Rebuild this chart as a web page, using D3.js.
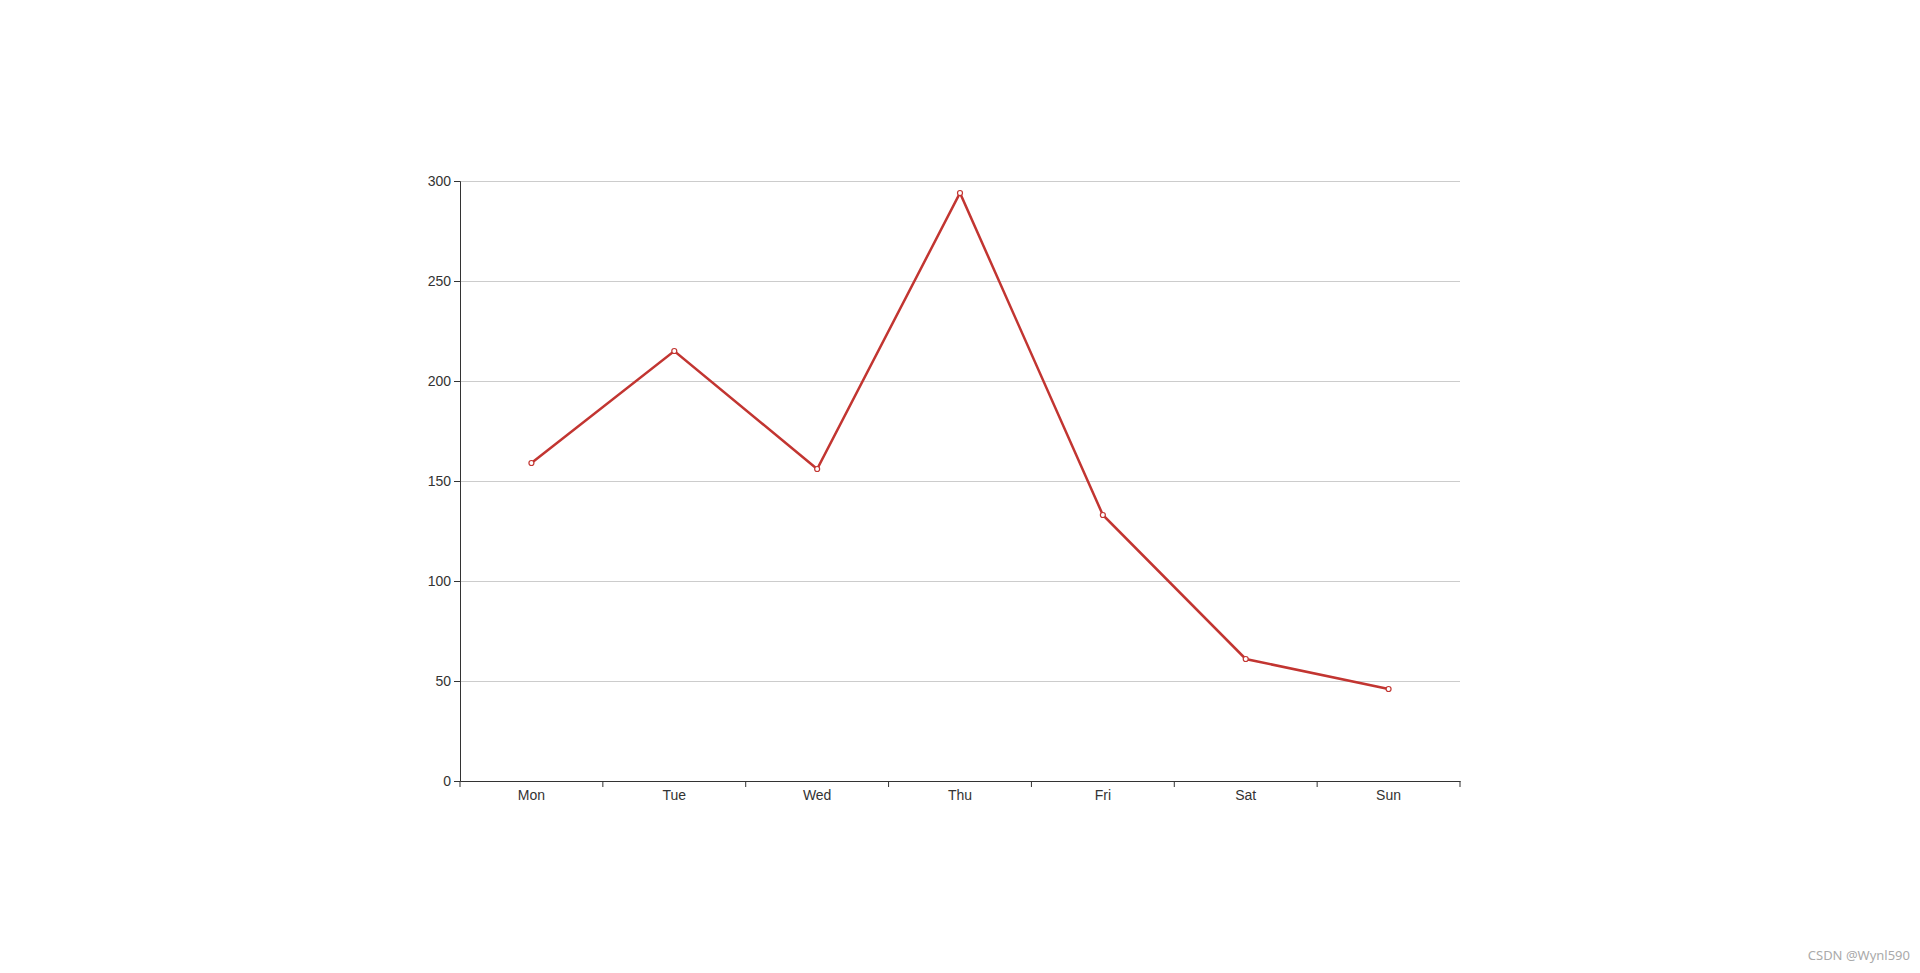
<!DOCTYPE html>
<html>
<head>
<meta charset="utf-8">
<script src="https://cdn.jsdelivr.net/npm/d3@7"></script>
<style>
  body { margin: 0; background: #fff; }
  svg { display: block; font-family: "Microsoft YaHei", "Noto Sans", sans-serif; }
</style>
</head>
<body>
<svg id="chart" width="1920" height="973"></svg>
<script>
var days = ["Mon", "Tue", "Wed", "Thu", "Fri", "Sat", "Sun"];
var values = [159, 215, 156, 294, 133, 61, 46];
var yTicks = [0, 50, 100, 150, 200, 250, 300];

var margin = { top: 181, left: 460 },
  width = 1000,
  height = 600;

var svg = d3.select("#chart")
  .append("g")
  .attr("transform", "translate(" + margin.left + "," + margin.top + ")");

var x = d3.scaleBand().domain(days).range([0, width]);
var y = d3.scaleLinear().domain([0, 300]).range([height, 0]);

// grid lines
svg.selectAll(".grid")
  .data(yTicks.slice(1))
  .enter().append("line")
  .attr("x1", 0).attr("x2", width)
  .attr("y1", function (d) { return y(d) + 0.5 })
  .attr("y2", function (d) { return y(d) + 0.5 })
  .attr("stroke", "#ccc");

// y axis
var yAxis = svg.append("g")
  .call(d3.axisLeft(y).tickValues(yTicks).tickSize(6).tickPadding(3));
yAxis.select(".domain").attr("stroke", "#333");
yAxis.selectAll("line").attr("stroke", "#333");
yAxis.selectAll("text").attr("fill", "#333").style("font-size", "14px");

// x axis, ticks on band boundaries
var xAxis = svg.append("g")
  .attr("transform", "translate(0," + height + ")")
  .call(d3.axisBottom(x).tickSize(0).tickPadding(9));
xAxis.select(".domain").attr("stroke", "#333");
xAxis.selectAll("text").attr("fill", "#333").style("font-size", "14px");
xAxis.selectAll(".bound")
  .data(d3.range(days.length + 1))
  .enter().append("line")
  .attr("x1", function (i) { return i * x.step() })
  .attr("x2", function (i) { return i * x.step() })
  .attr("y1", 0).attr("y2", 6)
  .attr("stroke", "#333");

var cx = function (d, i) { return x(days[i]) + x.bandwidth() / 2 };

// the line
svg.append("path")
  .datum(values)
  .attr("fill", "none")
  .attr("stroke", "#c23531")
  .attr("stroke-width", 2.5)
  .attr("d", d3.line()
    .x(cx)
    .y(function (d) { return y(d) }));

svg.selectAll(".pt")
  .data(values)
  .enter().append("circle")
  .attr("cx", cx)
  .attr("cy", function (d) { return y(d) })
  .attr("r", 2.5)
  .attr("fill", "#fff")
  .attr("stroke", "#c23531")
  .attr("stroke-width", 1.2);

// watermark
d3.select("#chart").append("text")
  .attr("x", 1910).attr("y", 960)
  .attr("text-anchor", "end")
  .attr("fill", "#aaa")
  .style("font-size", "13px")
  .text("CSDN @Wynl590");
</script>
</body>
</html>
